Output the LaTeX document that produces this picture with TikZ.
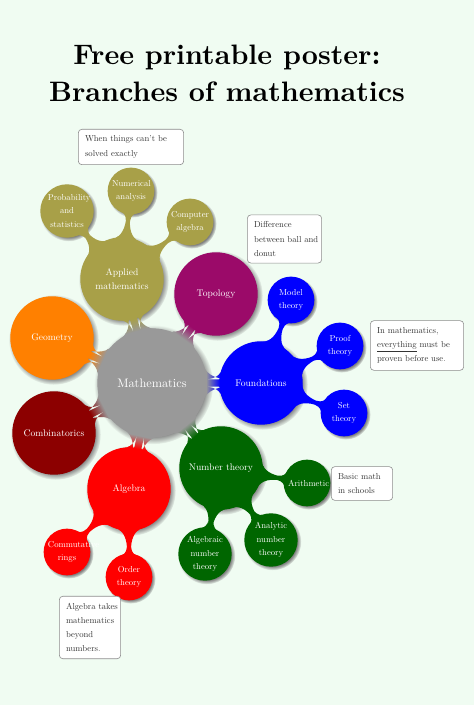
\documentclass[tikz,border=0pt]{standalone}
\usepackage{fontspec}
\setmainfont{lmroman10-regular.otf}[BoldFont=lmroman10-bold.otf, ItalicFont=lmroman10-italic.otf]
\usetikzlibrary{mindmap,shadows}
\definecolor{bgmint}{RGB}{240,252,242}
\definecolor{applied}{RGB}{168,160,72}
\definecolor{topo}{RGB}{155,10,105}
\definecolor{combi}{RGB}{140,0,0}
\definecolor{numth}{RGB}{0,102,0}
\tikzset{%
  title/.style={font=\fontsize{24}{31}\selectfont\bfseries, text=black, anchor=base},
  root/.style={concept, concept color=black!40, circular drop shadow, minimum size=3.24cm,
               text width=2.8cm, inner sep=0pt, text=white, font=\fontsize{10.5}{13}\selectfont},
  branch/.style={concept, circular drop shadow, minimum size=2.46cm, text width=2.1cm,
               inner sep=0pt, text=white, font=\fontsize{8.2}{11.9}\selectfont},
  leaf/.style={concept, circular drop shadow, minimum size=1.36cm, text width=1.14cm,
               inner sep=0pt, text=white, font=\fontsize{7.4}{11.3}\selectfont},
  note/.style={draw=black!45, line width=0.5pt, rounded corners=3pt, fill=white, text=black!80,
               align=left, inner sep=0.2cm, font=\fontsize{7.4}{12.2}\selectfont},
  link/.style={line width=1.5mm, circle connection bar switch color=from (black!40) to (#1)},
  twig/.style={line width=1mm, circle connection bar switch color=from (#1) to (#1)},
}

\begin{document}
\begin{tikzpicture}
    \useasboundingbox (0,0) rectangle (14.22,21.15);
    \fill[bgmint] (0,0) rectangle (14.22,21.15);

    %title
    \node[title] (title1) at (6.81,19.2) {Free printable poster:};
    \node[title] (title2) at (6.81,18.09) {Branches of mathematics};

  \begin{scope}[mindmap]
    %root
    \node[root] (math) at (4.56,9.66) {Mathematics};

    %applied mathematics
    \node[branch, concept color=applied] (applied) at (3.66,12.78) {Applied mathematics};
    \node[leaf, concept color=applied, minimum size=1.56cm] (prob) at (2.01,14.82) {Probability and statistics};
    \node[leaf, concept color=applied] (numeric) at (3.93,15.42) {Numerical analysis};
    \node[leaf, concept color=applied] (compalg) at (5.70,14.49) {Computer algebra};

    %topology
    \node[branch, concept color=topo] (topology) at (6.48,12.33) {Topology};

    %foundations
    \node[branch, concept color=blue] (found) at (7.83,9.66) {Foundations};
    \node[leaf, concept color=blue] (model) at (8.73,12.15) {Model theory};
    \node[leaf, concept color=blue] (proof) at (10.20,10.77) {Proof theory};
    \node[leaf, concept color=blue] (settheory) at (10.32,8.76) {Set theory};

    %geometry and combinatorics
    \node[branch, concept color=orange] (geom) at (1.56,11.01) {Geometry};
    \node[branch, concept color=combi] (comb) at (1.62,8.16) {Combinatorics};

    %algebra
    \node[branch, concept color=red] (algebra) at (3.87,6.48) {Algebra};
    \node[leaf, concept color=red] (rings) at (2.01,4.59) {Commutative rings};
    \node[leaf, concept color=red] (order) at (3.87,3.84) {Order theory};

    %number theory
    \node[branch, concept color=numth] (numtheory) at (6.63,7.11) {Number theory};
    \node[leaf, concept color=numth] (arith) at (9.21,6.66) {Arithmetic};
    \node[leaf, concept color=numth, minimum size=1.56cm] (analytic) at (8.13,4.95) {Analytic number theory};
    \node[leaf, concept color=numth, minimum size=1.56cm] (algnum) at (6.15,4.53) {Algebraic number theory};

    %connections from the root
    \path (math) to[link=applied] (applied);
    \path (math) to[link=topo] (topology);
    \path (math) to[link=blue] (found);
    \path (math) to[link=orange] (geom);
    \path (math) to[link=combi] (comb);
    \path (math) to[link=red] (algebra);
    \path (math) to[link=numth] (numtheory);

    %connections inside the branches
    \path (applied) to[twig=applied] (prob);
    \path (applied) to[twig=applied] (numeric);
    \path (applied) to[twig=applied] (compalg);
    \path (found) to[twig=blue] (model);
    \path (found) to[twig=blue] (proof);
    \path (found) to[twig=blue] (settheory);
    \path (algebra) to[twig=red] (rings);
    \path (algebra) to[twig=red] (order);
    \path (numtheory) to[twig=numth] (arith);
    \path (numtheory) to[twig=numth] (analytic);
    \path (numtheory) to[twig=numth] (algnum);
  \end{scope}

    %notes
    \node[note, text width=2.76cm] (n1) at (3.93,16.74) {When things can't be\\ solved exactly};
    \node[note, text width=1.83cm] (n2) at (8.535,13.98) {Difference\\ between~ball~and\\ donut};
    \node[note, text width=2.4cm] (n3) at (12.51,10.785) {In mathematics,\\ \underline{everything} must be\\ proven before use.};
    \node[note, text width=1.44cm] (n4) at (10.86,6.645) {Basic math\\ in schools};
    \node[note, text width=1.44cm] (n5) at (2.70,2.325) {Algebra~takes\\ mathematics\\ beyond\\ numbers.};
\end{tikzpicture}
\end{document}
